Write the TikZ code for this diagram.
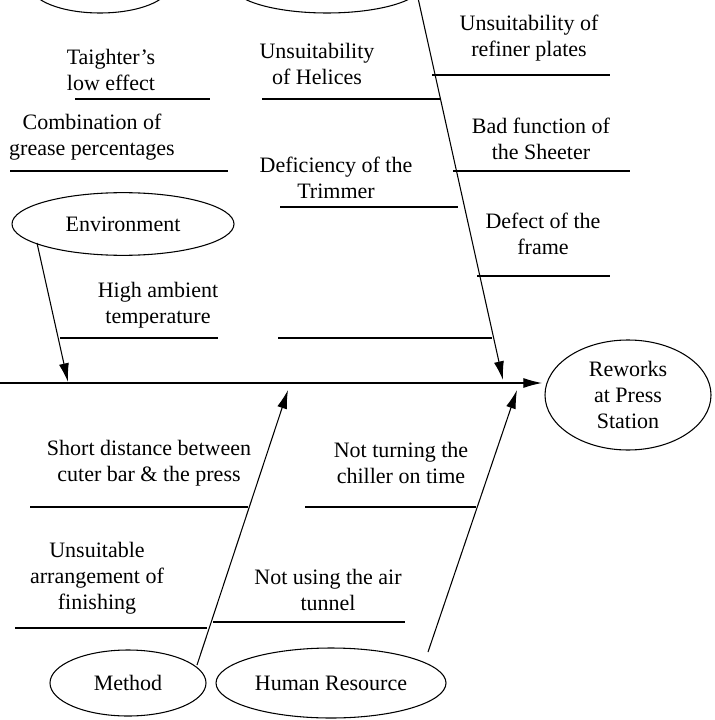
\documentclass[tikz,border=0pt]{standalone}
\usepackage{fontspec}
\setmainfont{Liberation Serif}
\usetikzlibrary{arrows.meta,shapes.geometric}
\begin{document}
\begin{tikzpicture}[x=0.75pt,y=-0.75pt,
  lbl/.style={align=center,font=\fontsize{16.5pt}{19.5pt}\selectfont,inner sep=0pt},
  ell/.style={draw,ellipse,line width=0.8pt},
  bone/.style={line width=0.8pt},
  arr/.style={line width=0.8pt,-{Latex[length=14pt,width=7.5pt]}}]
\useasboundingbox (0,0) rectangle (714,720);
\begin{scope}
\clip (0,0) rectangle (714,720);
% top ellipses (cut off)
\draw[bone] (100,-15) ellipse [x radius=70, y radius=28];
\draw[bone] (327,-15) ellipse [x radius=95, y radius=28];
% spine
\coordinate (s0) at (0,383);
\coordinate (s1) at (542,383);
\draw[arr] (s0) -- (s1);
\node[ell,minimum width=124.5pt,minimum height=82.5pt,lbl] (eff) at (628,395) {Reworks\\at Press\\Station};
% upper right bone
\coordinate (t0) at (418,-2);
\coordinate (t1) at (503,380);
\draw[arr] (t0) -- (t1);
% environment
\node[ell,minimum width=166.5pt,minimum height=47pt,lbl] (env) at (123,224) {Environment};
\coordinate (e1) at (68,382);
\draw[arr] (37,243) -- (e1);
% horizontal lines
\draw[bone] (75,99) -- (210,99);
\draw[bone] (262,99) -- (440,99);
\draw[bone] (10,171) -- (228,171);
\draw[bone] (432,75) -- (610,75);
\draw[bone] (453,171) -- (630,171);
\draw[bone] (280,207) -- (458,207);
\draw[bone] (477,276) -- (610,276);
\draw[bone] (60,338) -- (218,338);
\draw[bone] (278,338) -- (492,338);
\draw[bone] (30,507) -- (248,507);
\draw[bone] (305,507) -- (476,507);
\draw[bone] (15,628) -- (207,628);
\draw[bone] (213,622) -- (405,622);
% bottom
\node[ell,minimum width=117pt,minimum height=49.5pt,lbl] (meth) at (128,683) {Method};
\node[ell,minimum width=172.5pt,minimum height=52.5pt,lbl] (hr) at (331,683) {Human Resource};
\coordinate (m1) at (288,390);
\coordinate (h1) at (517,390);
\draw[arr] (197,665) -- (m1);
\draw[arr] (428,652) -- (h1);
% labels
\node[lbl] (l1) at (111,70) {Taighter's\\low effect};
\node[lbl] (l2) at (317,64) {Unsuitability\\of Helices};
\node[lbl] (l3) at (529,38) {Unsuitability of\\refiner plates};
\node[lbl] (l4) at (92,137) {Combination of\\grease percentages};
\node[lbl] (l5) at (541,139) {Bad function of\\the Sheeter};
\node[lbl] (l6) at (336,178) {Deficiency of the\\Trimmer};
\node[lbl] (l7) at (543,234) {Defect of the\\frame};
\node[lbl] (l8) at (158,305) {High ambient\\temperature};
\node[lbl] (l9) at (149,463) {Short distance between\\cuter bar \& the press};
\node[lbl] (l10) at (401,463) {Not turning the\\chiller on time};
\node[lbl] (l11) at (97,578) {Unsuitable\\arrangement of\\finishing};
\node[lbl] (l12) at (328,590) {Not using the air\\tunnel};
\end{scope}
\end{tikzpicture}
\end{document}
